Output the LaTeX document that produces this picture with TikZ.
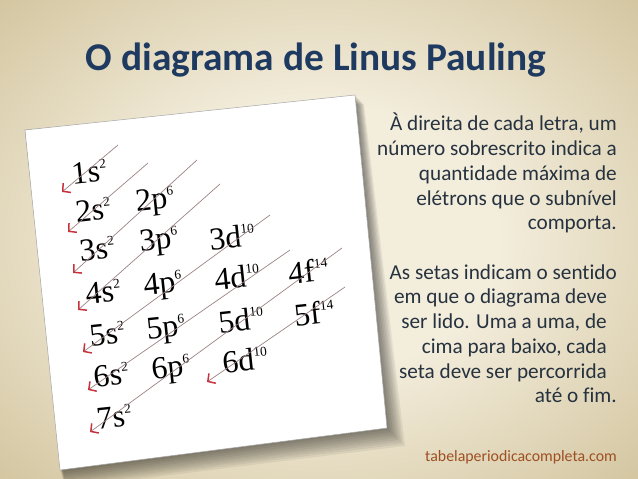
\documentclass[tikz,border=0pt]{standalone}
\usepackage{fontspec}
\setmainfont{Carlito}[Ligatures=NoCommon]
\newfontfamily\orbfont{Liberation Serif}
\usetikzlibrary{arrows.meta}

\definecolor{titleblue}{HTML}{1F3A60}
\definecolor{textslate}{HTML}{26323F}
\definecolor{creditbrown}{HTML}{9E4F22}
\definecolor{bglight}{HTML}{F3EDDC}
\definecolor{bgdark}{HTML}{D3C59F}
\definecolor{diagline}{HTML}{9C8484}
\definecolor{tipred}{HTML}{C8323C}

\pgfdeclareradialshading{bgglow}{\pgfpoint{0bp}{0bp}}{color(0bp)=(bglight); color(14bp)=(bglight); color(36bp)=(bgdark); color(50bp)=(bgdark)}

% orbital label: main text + small raised count
\newcommand{\orb}[2]{{\orbfont\fontsize{32}{32}\selectfont #1}{\orbfont\fontsize{13.5}{13.5}\selectfont\raisebox{13bp}{#2}}}

\begin{document}
\begin{tikzpicture}[x=1bp,y=1bp]
\tikzstyle{every node}+=[inner sep=0pt]
\tikzstyle{orbital}=[text=black, rotate=6]
\tikzstyle{diag}=[diagline, line width=0.7bp, -{Straight Barb[length=5.5bp,width=12bp,color=tipred,line width=1.5bp]}]
\useasboundingbox (0,0) rectangle (638,-479);
\shade[shading=bgglow] (0,0) rectangle (638,-479);
\draw (316,-60) node[text=titleblue, font=\bfseries\fontsize{39.5}{39.5}\selectfont] (title) {O diagrama de Linus Pauling};
% paper sheet
\coordinate (tl) at (25,-130);
\coordinate (tr) at (355,-95);
\coordinate (br) at (387,-428);
\coordinate (bl) at (60,-470);
\foreach \d in {2,4,...,18}
  \fill [black, opacity=0.06] ([shift={(0.5*\d,-0.5*\d)}]tr) -- ([shift={(\d,-\d)}]br) -- ([shift={(0.3*\d,-\d)}]bl) -- (tl) -- cycle;
\fill [white, draw=black!35, line width=0.5bp] (tl) -- (tr) -- (br) -- (bl) -- cycle;
% orbitals
\foreach \nm/\x/\y/\sup in {1s/89/172/2, 2s/93/210/2, 2p/155/202/6, 3s/97/249/2, 3p/159/242/6, 3d/232/237/10,
    4s/103/292/2, 4p/163/286/6, 4d/237/277/10, 4f/308/271/14, 5s/107/334/2, 5p/166/330/6, 5d/241/320/10, 5f/314/313/14,
    6s/111/375/2, 6p/171/370/6, 6d/245/360/10, 7s/114/417/2}
  \node [orbital] (o\nm) at (\x,-\y) {\orb{\nm}{\sup}};
% reading diagonals
\foreach \i/\tx/\ty/\hx/\hy in {1/118/145/62/192, 2/148/163/68/232, 3/197/160/73/273, 4/220/184/78/310,
    5/270/215/83/352, 6/290/250/88/390, 7/342/248/90/432, 8/345/287/207/382} {
  \coordinate (t\i) at (\tx,-\ty);
  \coordinate (h\i) at (\hx,-\hy);
  \draw [diag] (t\i) -- (h\i);
}
% explanation
\node [anchor=north east, align=right, text=textslate, font=\fontsize{21.3}{24.8}\selectfont] (notes) at (617,-113)
  {À direita de cada letra, um\\ número sobrescrito indica a\\ quantidade máxima de\\ elétrons que o subnível\\ comporta.\\[24.8bp]
   As setas indicam o sentido\\ em que o diagrama deve\kern10bp\\ ser lido. Uma a uma, de\kern10bp\\ cima para baixo, cada\kern10bp\\
   seta deve ser percorrida\kern10bp\\ até o fim.};
\node [anchor=east, text=creditbrown, font=\fontsize{15.9}{15.9}\selectfont] (credit) at (617,-457) {tabelaperiodicacompleta.com};
\end{tikzpicture}
\end{document}
